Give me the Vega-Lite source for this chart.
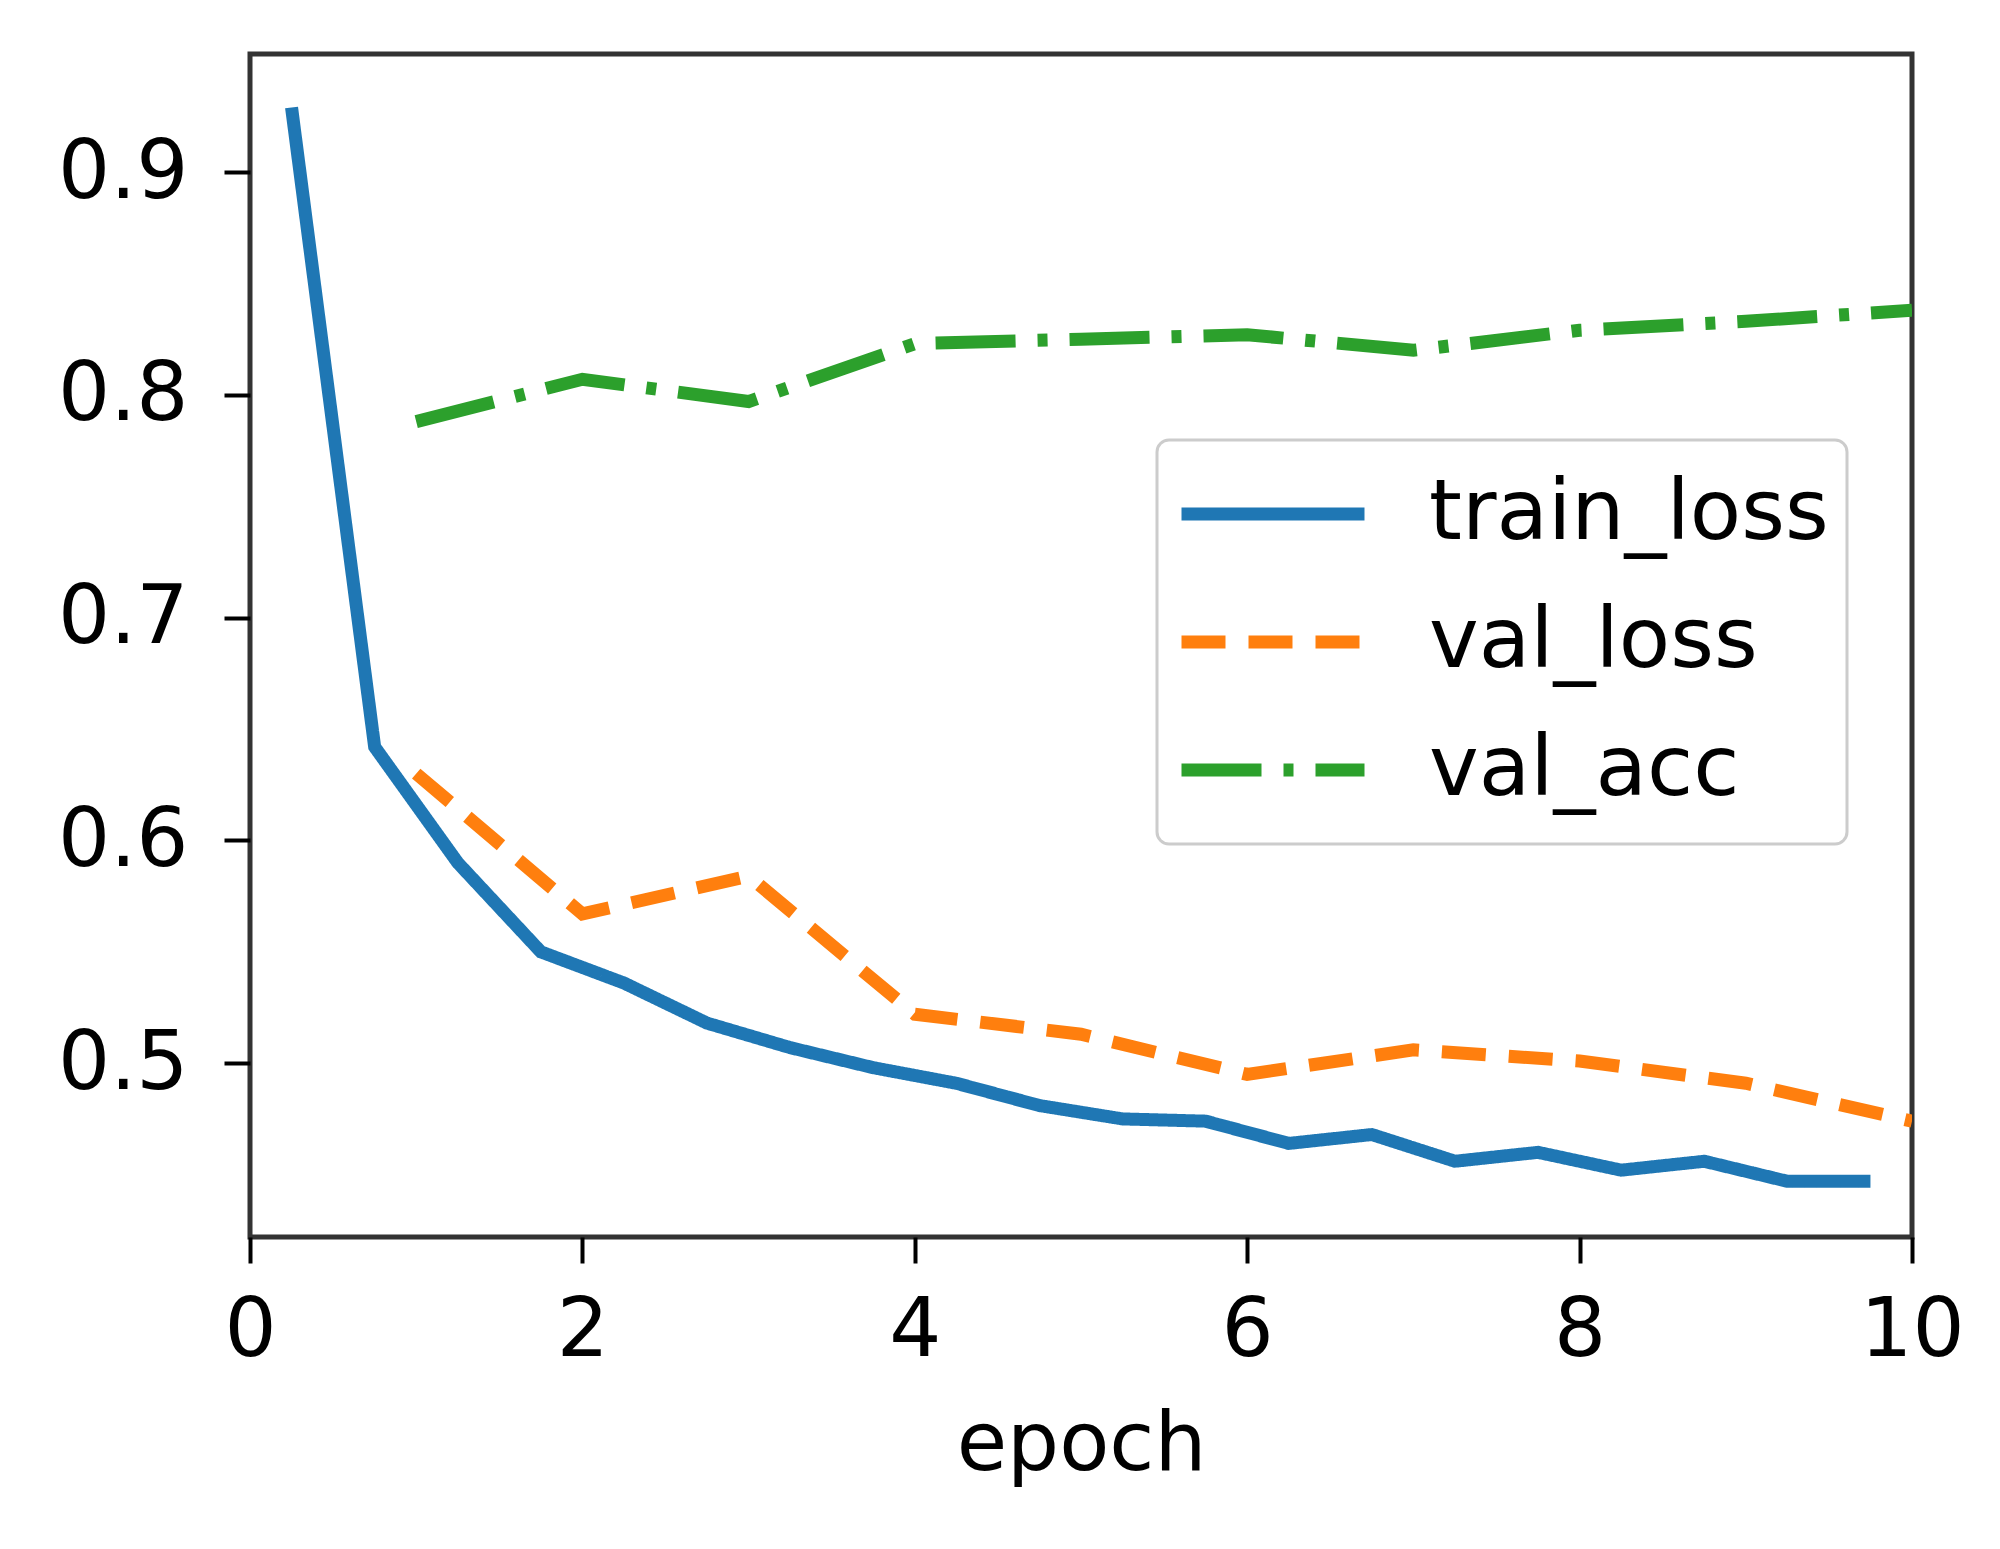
{
  "$schema": "https://vega.github.io/schema/vega-lite/v6.json",
  "autosize": "none",
  "padding": {"left": 250, "top": 54, "right": 88, "bottom": 312},
  "width": 1662,
  "height": 1183,
  "background": "white",
  "config": {
    "font": "DejaVu Sans",
    "view": {"stroke": "#333333", "strokeWidth": 5},
    "axis": {
      "domain": false,
      "grid": false,
      "labelFlush": false,
      "labelOverlap": false,
      "tickColor": "#000000",
      "tickWidth": 4,
      "tickSize": 26,
      "labelFont": "DejaVu Sans",
      "labelFontSize": 82,
      "labelColor": "#000000",
      "titleFont": "DejaVu Sans",
      "titleFontSize": 82,
      "titleFontWeight": "normal",
      "titleColor": "#000000"
    },
    "legend": {
      "orient": "none",
      "legendX": 907,
      "legendY": 386,
      "title": null,
      "padding": 18,
      "fillColor": "rgba(255,255,255,0.8)",
      "strokeColor": "#cccccc",
      "strokeWidth": 3,
      "cornerRadius": 12,
      "labelFont": "DejaVu Sans",
      "labelFontSize": 84,
      "labelColor": "#000000",
      "labelLimit": 0,
      "labelOffset": 58,
      "rowPadding": 16,
      "clipHeight": 112,
      "symbolType": "stroke",
      "symbolSize": 33489,
      "symbolStrokeWidth": 13
    }
  },
  "data": {
    "values": [
      {"epoch": 0.25, "value": 0.929, "series": "train_loss"},
      {"epoch": 0.75, "value": 0.642, "series": "train_loss"},
      {"epoch": 1.25, "value": 0.590, "series": "train_loss"},
      {"epoch": 1.75, "value": 0.550, "series": "train_loss"},
      {"epoch": 2.25, "value": 0.536, "series": "train_loss"},
      {"epoch": 2.75, "value": 0.518, "series": "train_loss"},
      {"epoch": 3.25, "value": 0.507, "series": "train_loss"},
      {"epoch": 3.75, "value": 0.498, "series": "train_loss"},
      {"epoch": 4.25, "value": 0.491, "series": "train_loss"},
      {"epoch": 4.75, "value": 0.481, "series": "train_loss"},
      {"epoch": 5.25, "value": 0.475, "series": "train_loss"},
      {"epoch": 5.75, "value": 0.474, "series": "train_loss"},
      {"epoch": 6.25, "value": 0.464, "series": "train_loss"},
      {"epoch": 6.75, "value": 0.468, "series": "train_loss"},
      {"epoch": 7.25, "value": 0.456, "series": "train_loss"},
      {"epoch": 7.75, "value": 0.460, "series": "train_loss"},
      {"epoch": 8.25, "value": 0.452, "series": "train_loss"},
      {"epoch": 8.75, "value": 0.456, "series": "train_loss"},
      {"epoch": 9.25, "value": 0.447, "series": "train_loss"},
      {"epoch": 9.75, "value": 0.447, "series": "train_loss"},
      {"epoch": 1, "value": 0.630, "series": "val_loss"},
      {"epoch": 2, "value": 0.567, "series": "val_loss"},
      {"epoch": 3, "value": 0.584, "series": "val_loss"},
      {"epoch": 4, "value": 0.522, "series": "val_loss"},
      {"epoch": 5, "value": 0.513, "series": "val_loss"},
      {"epoch": 6, "value": 0.495, "series": "val_loss"},
      {"epoch": 7, "value": 0.506, "series": "val_loss"},
      {"epoch": 8, "value": 0.501, "series": "val_loss"},
      {"epoch": 9, "value": 0.491, "series": "val_loss"},
      {"epoch": 10, "value": 0.474, "series": "val_loss"},
      {"epoch": 1, "value": 0.788, "series": "val_acc"},
      {"epoch": 2, "value": 0.807, "series": "val_acc"},
      {"epoch": 3, "value": 0.797, "series": "val_acc"},
      {"epoch": 4, "value": 0.823, "series": "val_acc"},
      {"epoch": 5, "value": 0.825, "series": "val_acc"},
      {"epoch": 6, "value": 0.827, "series": "val_acc"},
      {"epoch": 7, "value": 0.820, "series": "val_acc"},
      {"epoch": 8, "value": 0.829, "series": "val_acc"},
      {"epoch": 9, "value": 0.833, "series": "val_acc"},
      {"epoch": 10, "value": 0.838, "series": "val_acc"}
    ]
  },
  "mark": {"type": "line", "strokeWidth": 13, "clip": true},
  "encoding": {
    "x": {
      "field": "epoch",
      "type": "quantitative",
      "title": "epoch",
      "scale": {"domain": [0, 10], "nice": false, "zero": false},
      "axis": {"values": [0, 2, 4, 6, 8, 10], "format": "d", "labelPadding": 27, "titlePadding": 33}
    },
    "y": {
      "field": "value",
      "type": "quantitative",
      "title": null,
      "scale": {"domain": [0.422, 0.953], "nice": false, "zero": false},
      "axis": {"values": [0.5, 0.6, 0.7, 0.8, 0.9], "format": ".1f", "labelPadding": 36}
    },
    "color": {
      "field": "series",
      "type": "nominal",
      "scale": {"domain": ["train_loss", "val_loss", "val_acc"], "range": ["#1f77b4", "#ff7f0e", "#2ca02c"]}
    },
    "strokeDash": {
      "field": "series",
      "type": "nominal",
      "scale": {"domain": ["train_loss", "val_loss", "val_acc"], "range": [[1, 0], [44, 23], [80, 22, 10, 22]]}
    }
  }
}
